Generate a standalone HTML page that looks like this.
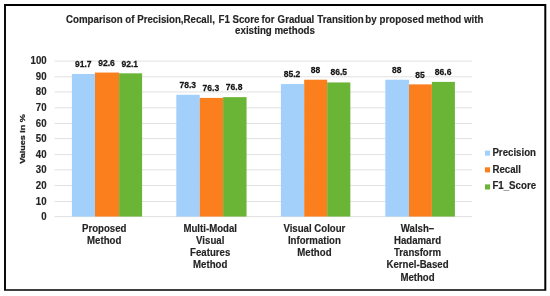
<!DOCTYPE html>
<html><head><meta charset="utf-8"><title>Comparison chart</title>
<style>
html,body{margin:0;padding:0;background:#fff;}
body{width:550px;height:296px;overflow:hidden;}
svg{display:block;}
text{font-family:"Liberation Sans",Arial,sans-serif;font-weight:bold;fill:#242424;}
.t{font-size:10px;stroke:#242424;stroke-width:0.15px;}
.d{font-size:9.6px;fill:#141414;stroke:#141414;stroke-width:0.25px;}
</style></head><body>
<svg width="550" height="296" viewBox="0 0 550 296">
<rect x="0" y="0" width="550" height="296" fill="#fff"/>
<path d="M4.05 4.05H546.3V290.85H4.05Z M5.95 5.95V289.15H544.3V5.95Z" fill="#000" fill-rule="evenodd"/>

<line x1="54.5" y1="216.60" x2="472.0" y2="216.60" stroke="#e1e1e1" stroke-width="1"/>
<line x1="54.5" y1="201.50" x2="472.0" y2="201.50" stroke="#e1e1e1" stroke-width="1"/>
<line x1="54.5" y1="185.50" x2="472.0" y2="185.50" stroke="#e1e1e1" stroke-width="1"/>
<line x1="54.5" y1="169.80" x2="472.0" y2="169.80" stroke="#e1e1e1" stroke-width="1"/>
<line x1="54.5" y1="154.65" x2="472.0" y2="154.65" stroke="#e1e1e1" stroke-width="1"/>
<line x1="54.5" y1="138.60" x2="472.0" y2="138.60" stroke="#e1e1e1" stroke-width="1"/>
<line x1="54.5" y1="123.50" x2="472.0" y2="123.50" stroke="#e1e1e1" stroke-width="1"/>
<line x1="54.5" y1="107.80" x2="472.0" y2="107.80" stroke="#e1e1e1" stroke-width="1"/>
<line x1="54.5" y1="91.95" x2="472.0" y2="91.95" stroke="#e1e1e1" stroke-width="1"/>
<line x1="54.5" y1="76.80" x2="472.0" y2="76.80" stroke="#e1e1e1" stroke-width="1"/>
<line x1="54.5" y1="61.10" x2="472.0" y2="61.10" stroke="#e1e1e1" stroke-width="1"/>
<text class="t" text-anchor="end" transform="translate(46.6,219.90) scale(0.965,1)">0</text>
<text class="t" text-anchor="end" transform="translate(46.6,204.80) scale(0.965,1)">10</text>
<text class="t" text-anchor="end" transform="translate(46.6,188.80) scale(0.965,1)">20</text>
<text class="t" text-anchor="end" transform="translate(46.6,173.10) scale(0.965,1)">30</text>
<text class="t" text-anchor="end" transform="translate(46.6,157.95) scale(0.965,1)">40</text>
<text class="t" text-anchor="end" transform="translate(46.6,141.90) scale(0.965,1)">50</text>
<text class="t" text-anchor="end" transform="translate(46.6,126.80) scale(0.965,1)">60</text>
<text class="t" text-anchor="end" transform="translate(46.6,111.10) scale(0.965,1)">70</text>
<text class="t" text-anchor="end" transform="translate(46.6,95.25) scale(0.965,1)">80</text>
<text class="t" text-anchor="end" transform="translate(46.6,80.10) scale(0.965,1)">90</text>
<text class="t" text-anchor="end" transform="translate(46.6,64.40) scale(0.965,1)">100</text>
<rect x="71.90" y="73.96" width="23.10" height="142.59" fill="#a2d0fb"/>
<text class="d" text-anchor="middle" transform="translate(83.30,67.26) scale(0.89,1)">91.7</text>
<rect x="95.00" y="72.56" width="24.10" height="143.99" fill="#fb7f1c"/>
<text class="d" text-anchor="middle" transform="translate(106.50,65.86) scale(0.89,1)">92.6</text>
<rect x="119.10" y="73.33" width="23.00" height="143.22" fill="#6ab536"/>
<text class="d" text-anchor="middle" transform="translate(129.70,66.63) scale(0.89,1)">92.1</text>
<rect x="176.30" y="94.79" width="23.45" height="121.76" fill="#a2d0fb"/>
<text class="d" text-anchor="middle" transform="translate(187.70,88.09) scale(0.89,1)">78.3</text>
<rect x="199.75" y="97.90" width="23.35" height="118.65" fill="#fb7f1c"/>
<text class="d" text-anchor="middle" transform="translate(210.90,91.20) scale(0.89,1)">76.3</text>
<rect x="223.10" y="97.13" width="23.45" height="119.42" fill="#6ab536"/>
<text class="d" text-anchor="middle" transform="translate(234.10,90.43) scale(0.89,1)">76.8</text>
<rect x="280.90" y="84.06" width="23.30" height="132.49" fill="#a2d0fb"/>
<text class="d" text-anchor="middle" transform="translate(292.00,76.66) scale(0.89,1)">85.2</text>
<rect x="304.20" y="79.71" width="22.95" height="136.84" fill="#fb7f1c"/>
<text class="d" text-anchor="middle" transform="translate(315.60,73.01) scale(0.89,1)">88</text>
<rect x="327.15" y="82.44" width="23.20" height="134.11" fill="#6ab536"/>
<text class="d" text-anchor="middle" transform="translate(338.80,75.34) scale(0.89,1)">86.5</text>
<rect x="385.30" y="79.71" width="23.70" height="136.84" fill="#a2d0fb"/>
<text class="d" text-anchor="middle" transform="translate(396.70,73.01) scale(0.89,1)">88</text>
<rect x="409.00" y="84.38" width="22.90" height="132.17" fill="#fb7f1c"/>
<text class="d" text-anchor="middle" transform="translate(419.90,77.68) scale(0.89,1)">85</text>
<rect x="431.90" y="81.89" width="23.00" height="134.66" fill="#6ab536"/>
<text class="d" text-anchor="middle" transform="translate(443.10,75.19) scale(0.89,1)">86.6</text>
<text class="t" text-anchor="middle" transform="translate(274.7,23.0) scale(0.943,1)" style="font-size:10.3px">Comparison of Precision,Recall, <tspan dx="1">F1 Score</tspan><tspan dx="-0.6"> for </tspan><tspan dx="0.4">Gradual </tspan><tspan dx="0.4">Transition</tspan><tspan dx="-1.2"> by </tspan><tspan dx="0.3">proposed</tspan><tspan dx="-0.3"> method with</tspan></text>
<text class="t" text-anchor="middle" transform="translate(275,34.4) scale(0.943,1)" style="font-size:10.3px">existing methods</text>
<text text-anchor="middle" transform="translate(25.1,139) rotate(-90) scale(1.17,1)" style="font-size:7.7px;stroke:#242424;stroke-width:0.25px">Values in %</text>
<text class="t" text-anchor="middle" transform="translate(104.2,231.80) scale(0.965,1)">Proposed</text>
<text class="t" text-anchor="middle" transform="translate(104.2,244.00) scale(0.965,1)">Method</text>
<text class="t" text-anchor="middle" transform="translate(210.2,231.80) scale(0.965,1)">Multi-Modal</text>
<text class="t" text-anchor="middle" transform="translate(210.2,244.00) scale(0.965,1)">Visual</text>
<text class="t" text-anchor="middle" transform="translate(210.2,256.20) scale(0.965,1)">Features</text>
<text class="t" text-anchor="middle" transform="translate(210.2,268.40) scale(0.965,1)">Method</text>
<text class="t" text-anchor="middle" transform="translate(314.4,231.80) scale(0.965,1)">Visual Colour</text>
<text class="t" text-anchor="middle" transform="translate(314.4,244.00) scale(0.965,1)">Information</text>
<text class="t" text-anchor="middle" transform="translate(314.4,256.20) scale(0.965,1)">Method</text>
<text class="t" text-anchor="middle" transform="translate(417.5,231.80) scale(0.965,1)">Walsh–</text>
<text class="t" text-anchor="middle" transform="translate(417.5,244.00) scale(0.965,1)">Hadamard</text>
<text class="t" text-anchor="middle" transform="translate(417.5,256.20) scale(0.965,1)">Transform</text>
<text class="t" text-anchor="middle" transform="translate(417.5,268.40) scale(0.965,1)">Kernel-Based</text>
<text class="t" text-anchor="middle" transform="translate(417.5,280.60) scale(0.965,1)">Method</text>
<rect x="485" y="150.6" width="5" height="5.1" fill="#a2d0fb"/>
<text class="t" transform="translate(492.4,155.95) scale(0.97,1)">Precision</text>
<rect x="485" y="167.3" width="5" height="5.1" fill="#fb7f1c"/>
<text class="t" transform="translate(492.4,172.5) scale(0.97,1)">Recall</text>
<rect x="485" y="184.4" width="5" height="5.1" fill="#6ab536"/>
<text class="t" transform="translate(492.4,189.4) scale(0.97,1)">F1_Score</text>
</svg></body></html>
